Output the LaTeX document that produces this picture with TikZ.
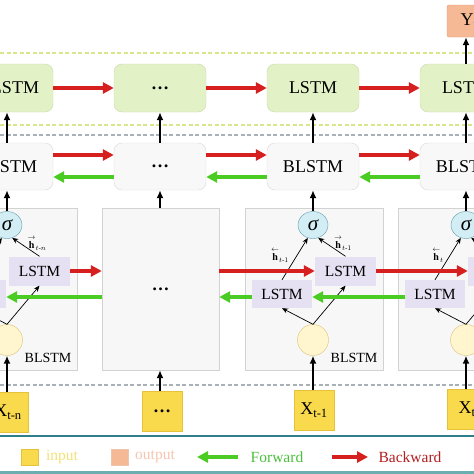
\documentclass[tikz,border=0pt]{standalone}
\usepackage{fontspec}
\setmainfont{Liberation Serif}
\usepackage{amsmath}
\usetikzlibrary{arrows.meta,calc,shapes.geometric}
\definecolor{gbf}{HTML}{E3F2C6}
\definecolor{gbd}{HTML}{C9DBAE}
\definecolor{bbf}{HTML}{F8F8F8}
\definecolor{bbd}{HTML}{D9D9D9}
\definecolor{pf}{HTML}{F7F7F8}
\definecolor{pd}{HTML}{D2D2D2}
\definecolor{lav}{HTML}{E6E1F2}
\definecolor{sigf}{HTML}{D2EEF4}
\definecolor{sigd}{HTML}{5C98A6}
\definecolor{ycf}{HTML}{FFF6CF}
\definecolor{ycd}{HTML}{D9C275}
\definecolor{inf}{HTML}{F9DA4C}
\definecolor{ind}{HTML}{E6C23C}
\definecolor{outf}{HTML}{F6B995}
\definecolor{outd}{HTML}{E39C78}
\definecolor{redc}{HTML}{D61F1F}
\definecolor{grc}{HTML}{4BCC25}
\definecolor{ygd}{HTML}{D8E78C}
\definecolor{gyd}{HTML}{A9B1B8}
\definecolor{teal1}{HTML}{2F7F8A}
\definecolor{teal2}{HTML}{6AAEB2}
\definecolor{inputtxt}{HTML}{F2E27A}
\definecolor{outputtxt}{HTML}{F5C7B2}
\definecolor{fwdtxt}{HTML}{4CC03E}
\definecolor{bwdtxt}{HTML}{B51F22}
\begin{document}
\begin{tikzpicture}[x=1pt,y=-1pt,
  gbox/.style={draw=gbd,fill=gbf,rounded corners=8pt,minimum width=92pt,minimum height=48pt,inner sep=0pt,font=\fontsize{18}{20}\selectfont},
  bbox/.style={draw=bbd,fill=bbf,rounded corners=8pt,minimum width=92pt,minimum height=47pt,inner sep=0pt,font=\fontsize{18}{20}\selectfont},
  panel/.style={draw=pd,fill=pf,minimum width=138pt,minimum height=162pt,inner sep=0pt},
  lbox/.style={fill=lav,minimum width=61pt,minimum height=29pt,inner sep=0pt,font=\fontsize{15.5}{18}\selectfont},
  sigmanode/.style={ellipse,draw=sigd,fill=sigf,minimum width=30pt,minimum height=27pt,inner sep=0pt,font=\fontsize{21}{22}\selectfont\itshape},
  ycirc/.style={circle,draw=ycd,fill=ycf,minimum size=31pt,inner sep=0pt},
  inbox/.style={draw=ind,fill=inf,minimum size=40pt,inner sep=0pt,font=\fontsize{18}{20}\selectfont},
  hlab/.style={font=\fontsize{10}{11}\selectfont,inner sep=0pt},
  smalltxt/.style={font=\fontsize{14}{15}\selectfont,inner sep=0pt},
  txt/.style={font=\fontsize{18}{20}\selectfont,inner sep=0pt},
  legtxt/.style={font=\fontsize{15.5}{18}\selectfont,inner sep=0pt},
  rarr/.style={draw=redc,line width=3.4pt,-{Triangle[length=11pt,width=11pt]}},
  garr/.style={draw=grc,line width=3.4pt,-{Triangle[length=11pt,width=11pt]}},
  varr/.style={draw=black,line width=1.8pt,-{Latex[length=8pt,width=7pt]}},
  tarr/.style={draw=black,line width=0.7pt,-{Stealth[length=6pt,width=5pt]}},
  ygdash/.style={draw=ygd,line width=1.4pt,dash pattern=on 4pt off 2.5pt},
  gydash/.style={draw=gyd,line width=1.4pt,dash pattern=on 4pt off 2.5pt}
]
\useasboundingbox (0,0) rectangle (474,474);
\clip (0,0) rectangle (474,474);
\fill[white] (0,0) rectangle (474,474);

% dashed separators
\draw[ygdash] (0,53) -- (474,53);
\draw[ygdash] (0,125) -- (474,125);
\draw[gydash] (0,135) -- (474,135);
\draw[gydash] (0,385) -- (474,385);

% output
\node[draw=outd,fill=outf,rounded corners=2pt,minimum width=38pt,minimum height=32pt,inner sep=0pt] (yt) at (466,21) {};
\node[txt] (ytt) at (469,21) {Y\textsubscript{t}};

% top LSTM row
\node[gbox] (g1) at (7,88) {};
\node[txt] (g1t) at (15,88) {LSTM};
\node[gbox] (g2) at (160,88) {\textbf{…}};
\node[gbox] (g3) at (313,88) {LSTM};
\node[gbox] (g4) at (466,88) {LSTM};

% BLSTM row
\node[bbox] (b1) at (7,166.5) {BLSTM};
\node[bbox] (b2) at (160,166.5) {\textbf{…}};
\node[bbox] (b3) at (313,166.5) {BLSTM};
\node[bbox] (b4) at (466,166.5) {BLSTM};

% panels
\node[panel,minimum width=117pt] (p2) at (160.5,289) {\fontsize{17.5}{20}\selectfont\textbf{…}};
\foreach \c/\n in {7/1,313/3,466/4}{
  \node[panel] (p\n) at (\c+1,289) {};
  \node[sigmanode] (s\n) at (\c,225) {σ};
  \node[lbox] (u\n) at (\c+32.5,271) {LSTM};
  \node[lbox,minimum width=60pt,minimum height=28pt] (l\n) at (\c-31,294) {LSTM};
  \node[ycirc] (y\n) at (\c,340) {};
  \node[smalltxt] (bl\n) at (\c+41,358) {BLSTM};
  \draw[tarr] (y\n.north) -- (l\n.south);
  \draw[tarr] (y\n.north) -- (u\n.south);
  \draw[tarr] (l\n.north) -- (s\n.-112);
  \draw[tarr] (u\n.north) -- (s\n.-68);
}
\node[hlab] (h1f) at (37,243) {$\overset{\rightarrow}{\mathbf{h}}_{t\text{-}n}$};
\node[hlab] (h3b) at (280,255) {$\overset{\leftarrow}{\mathbf{h}}_{t\text{-}1}$};
\node[hlab] (h3f) at (343,243) {$\overset{\rightarrow}{\mathbf{h}}_{t\text{-}1}$};
\node[hlab] (h4b) at (438,255) {$\overset{\leftarrow}{\mathbf{h}}_{t}$};

% inputs
\node[inbox] (in1) at (8,412) {X\textsubscript{t-n}};
\node[inbox] (in2) at (162,411) {\textbf{…}};
\node[inbox] (in3) at (314,410) {X\textsubscript{t-1}};
\node[inbox] (in4) at (467,409) {X\textsubscript{t}};

% vertical arrows
\draw[varr] (g4.north) -- (yt.south -| g4.north);
\foreach \n in {1,2,3,4}{
  \draw[varr] (b\n.north) -- (g\n.south);
}
\foreach \n in {1,3,4}{
  \draw[varr] (s\n.north) -- (b\n.south);
  \draw[varr] (y\n.south |- in\n.north) -- (y\n.south);
}
\draw[varr] (p2.north -| b2.south) -- (b2.south);
\draw[varr] (in2.north -| b2.south) -- (p2.south -| b2.south);

% top row red arrows
\draw[rarr] (g1.east) -- (g2.west);
\draw[rarr] (g2.east) -- (g3.west);
\draw[rarr] (g3.east) -- (g4.west);
% BLSTM row arrows
\draw[rarr] ([yshift=11.5pt]b1.east) -- ([yshift=11.5pt]b2.west);
\draw[rarr] ([yshift=11.5pt]b2.east) -- ([yshift=11.5pt]b3.west);
\draw[rarr] ([yshift=11.5pt]b3.east) -- ([yshift=11.5pt]b4.west);
\draw[garr] ([yshift=-10.5pt]b2.west) -- ([yshift=-10.5pt]b1.east);
\draw[garr] ([yshift=-10.5pt]b3.west) -- ([yshift=-10.5pt]b2.east);
\draw[garr] ([yshift=-10.5pt]b4.west) -- ([yshift=-10.5pt]b3.east);

% panel row arrows
\draw[rarr] (u1.east) -- (u1.east -| p2.west);
\draw[rarr] (u3.west -| p2.east) -- (u3.west);
\draw[rarr] (u3.east) -- (u4.west);
\draw[garr] ([yshift=-3pt]l4.west) -- ([yshift=-3pt]l3.east);
\draw[garr] ([yshift=-3pt]l3.west) -- ([yshift=-3pt]l3.west -| p2.east);
\draw[garr] ([yshift=-3pt]l1.east -| p2.west) -- ([yshift=-3pt]l1.east);

% legend
\draw[teal1,line width=2.5pt] (0,436) -- (474,436);
\draw[teal2,line width=3pt] (0,472.5) -- (474,472.5);
\node[draw=ind,fill=inf,minimum width=17pt,minimum height=16pt,inner sep=0pt] (lin) at (29.5,457) {};
\node[legtxt,text=inputtxt] (lint) at (62,457) {input};
\node[draw=outd!60,fill=outf,minimum width=17pt,minimum height=16pt,inner sep=0pt] (lout) at (119.5,457) {};
\node[legtxt,text=outputtxt] (loutt) at (155,457) {output};
\coordinate (lgA) at (238,457);
\coordinate (lgB) at (197,457);
\draw[garr] (lgA) -- (lgB);
\node[legtxt,text=fwdtxt] (lf) at (277,457) {Forward};
\coordinate (lrA) at (332,457);
\coordinate (lrB) at (368,457);
\draw[rarr] (lrA) -- (lrB);
\node[legtxt,text=bwdtxt] (lb) at (410,457) {Backward};
\end{tikzpicture}
\end{document}
